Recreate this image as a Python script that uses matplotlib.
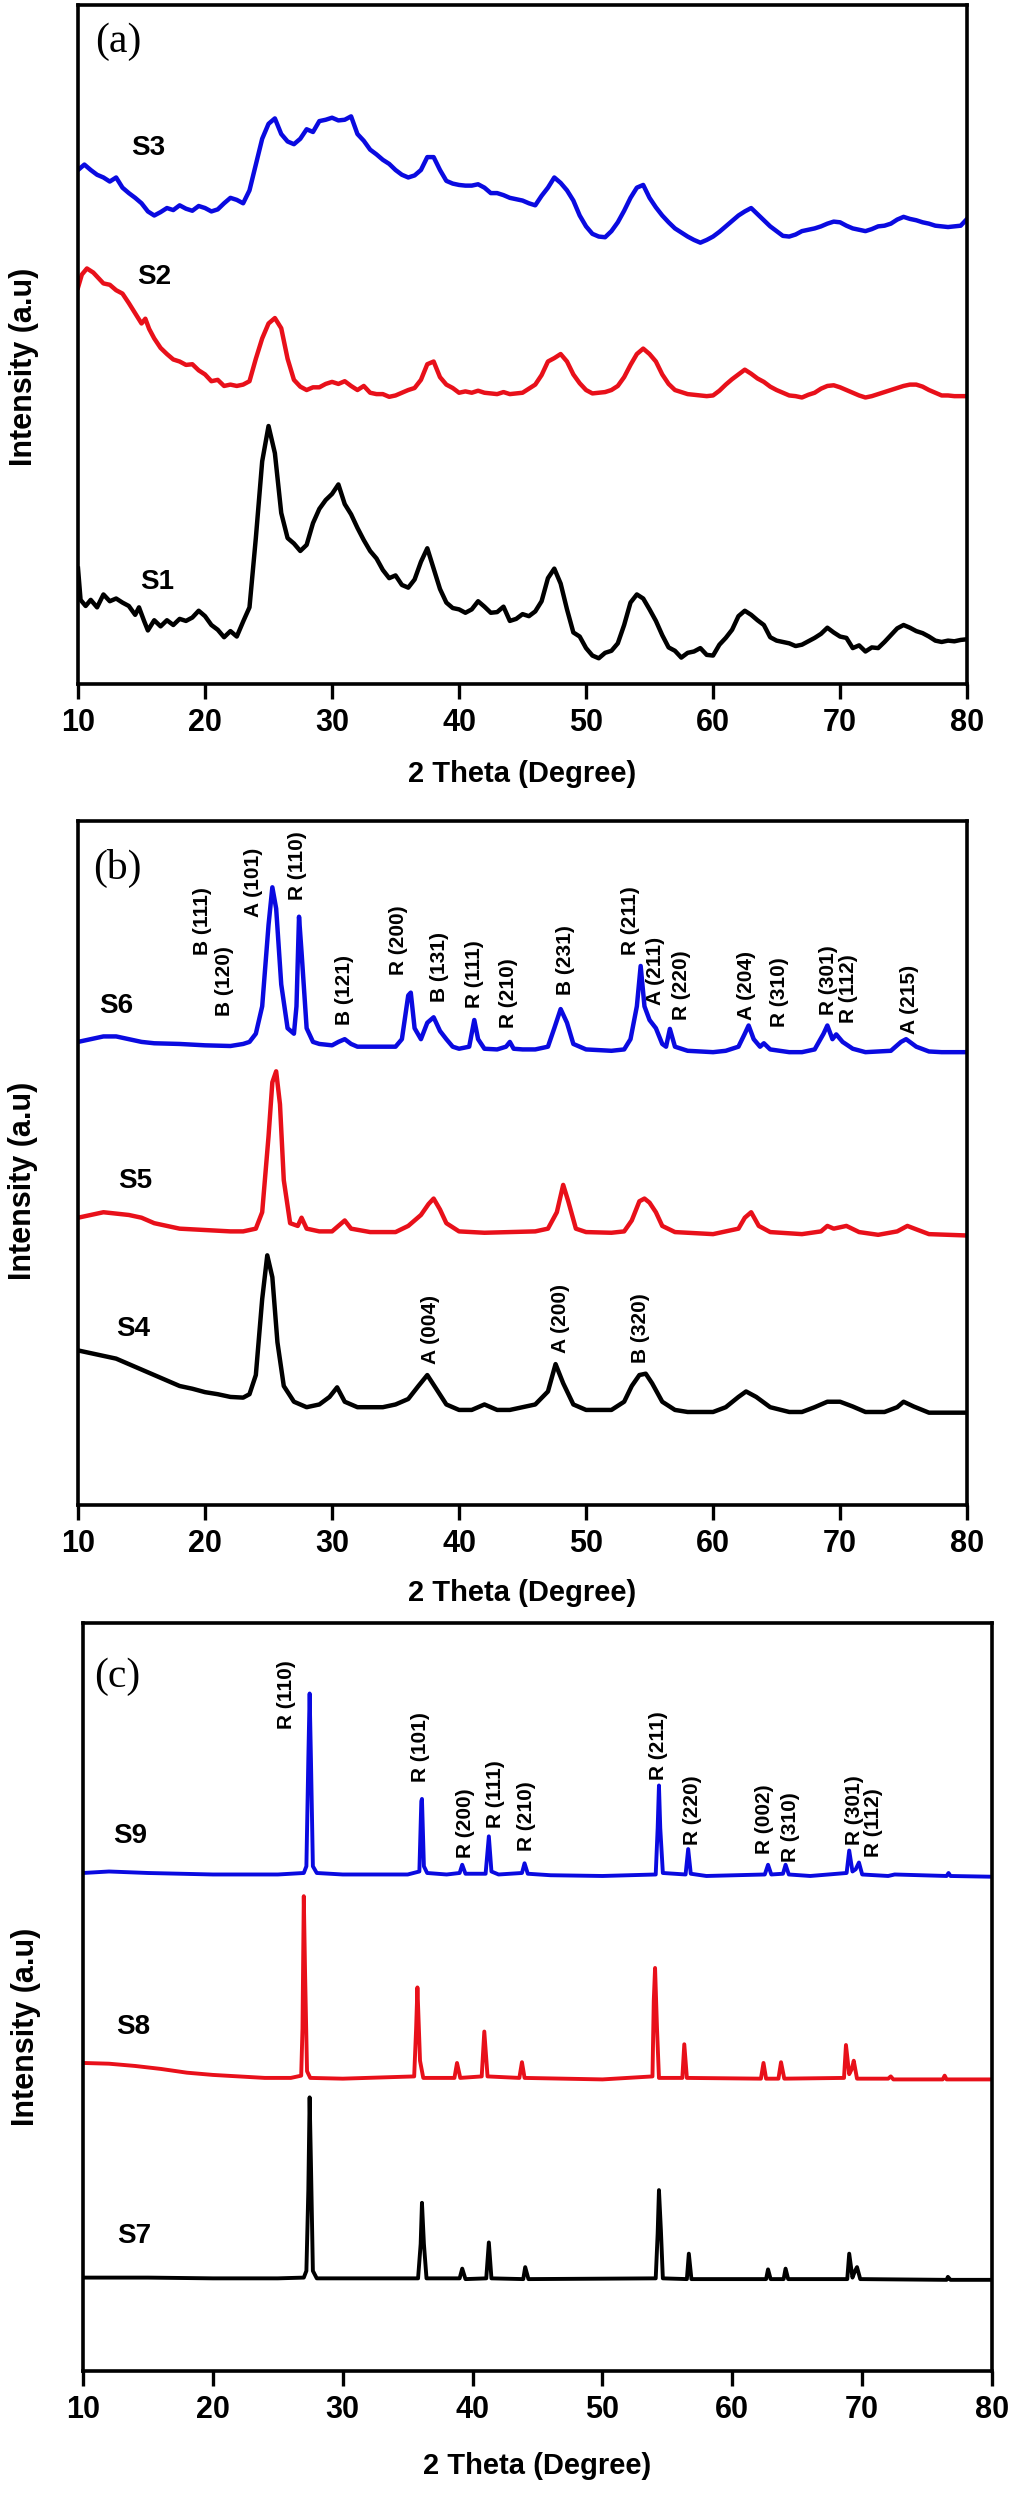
import matplotlib
matplotlib.use('Agg')
import matplotlib.pyplot as plt

####### data (2 theta in degree, intensity in a.u.) #######

# panel (a)
s1_x = [10.0, 10.2, 10.6, 11.0, 11.5, 12.0, 12.5, 13.0, 13.5, 14.0, 14.5, 14.8, 15.2, 15.5, 16.0, 16.5,
        17.0, 17.5, 18.0, 18.5, 19.0, 19.5, 20.0, 20.5, 21.0, 21.5, 22.0, 22.5, 23.0, 23.5, 24.0, 24.5,
        25.0, 25.5, 26.0, 26.5, 27.0, 27.5, 28.0, 28.5, 29.0, 29.5, 30.0, 30.5, 31.0, 31.5, 32.0, 32.5,
        33.0, 33.5, 34.0, 34.5, 35.0, 35.5, 36.0, 36.5, 37.0, 37.5, 38.0, 38.5, 39.0, 39.5, 40.0, 40.5,
        41.0, 41.5, 42.0, 42.5, 43.0, 43.5, 44.0, 44.5, 45.0, 45.5, 46.0, 46.5, 47.0, 47.5, 48.0, 48.5,
        49.0, 49.5, 50.0, 50.5, 51.0, 51.5, 52.0, 52.5, 53.0, 53.5, 54.0, 54.5, 55.0, 55.5, 56.0, 56.5,
        57.0, 57.5, 58.0, 58.5, 59.0, 59.5, 60.0, 60.5, 61.0, 61.5, 62.0, 62.5, 63.0, 63.5, 64.0, 64.5,
        65.0, 65.5, 66.0, 66.5, 67.0, 67.5, 68.0, 68.5, 69.0, 69.5, 70.0, 70.5, 71.0, 71.5, 72.0, 72.5,
        73.0, 73.5, 74.0, 74.5, 75.0, 75.5, 76.0, 76.5, 77.0, 77.5, 78.0, 78.5, 79.0, 79.5, 80.0]
s1_y = [17.0, 12.4, 11.5, 12.4, 11.3, 13.2, 12.2, 12.6, 12.0, 11.5, 10.2, 11.3, 9.3, 7.9, 9.4, 8.5,
        9.4, 8.7, 9.6, 9.3, 9.8, 10.8, 10.0, 8.7, 8.0, 6.9, 7.8, 7.0, 9.2, 11.3, 21.5, 32.8,
        38.0, 34.0, 25.2, 21.5, 20.7, 19.6, 20.5, 23.7, 25.8, 27.1, 28.0, 29.4, 26.5, 25.0, 23.0, 21.2,
        19.6, 18.5, 16.8, 15.6, 16.0, 14.6, 14.2, 15.4, 18.0, 20.0, 17.0, 14.0, 12.0, 11.2, 11.0, 10.5,
        11.0, 12.2, 11.4, 10.5, 10.6, 11.4, 9.3, 9.6, 10.3, 10.0, 10.7, 12.2, 15.6, 17.0, 14.8, 11.0,
        7.6, 7.0, 5.3, 4.2, 3.8, 4.6, 4.9, 6.0, 8.7, 12.0, 13.2, 12.6, 11.0, 9.3, 7.2, 5.4,
        4.9, 3.9, 4.6, 4.8, 5.3, 4.3, 4.2, 5.8, 6.8, 8.0, 10.0, 10.8, 10.2, 9.4, 8.7, 6.9,
        6.4, 6.2, 6.0, 5.6, 5.8, 6.3, 6.8, 7.4, 8.3, 7.6, 7.0, 6.8, 5.3, 5.7, 4.8, 5.4,
        5.3, 6.2, 7.2, 8.2, 8.7, 8.3, 7.8, 7.5, 7.0, 6.4, 6.2, 6.4, 6.3, 6.5, 6.6]

s2_x = [10.0, 10.3, 10.7, 11.2, 11.6, 12.0, 12.5, 13.0, 13.5, 14.0, 14.5, 15.0, 15.3, 15.6, 16.0, 16.5,
        17.0, 17.5, 18.0, 18.5, 19.0, 19.5, 20.0, 20.5, 21.0, 21.5, 22.0, 22.5, 23.0, 23.5, 24.0, 24.5,
        25.0, 25.5, 26.0, 26.5, 27.0, 27.5, 28.0, 28.5, 29.0, 29.5, 30.0, 30.5, 31.0, 31.5, 32.0, 32.5,
        33.0, 33.5, 34.0, 34.5, 35.0, 35.5, 36.0, 36.5, 37.0, 37.5, 38.0, 38.5, 39.0, 39.5, 40.0, 40.5,
        41.0, 41.5, 42.0, 42.5, 43.0, 43.5, 44.0, 44.5, 45.0, 45.5, 46.0, 46.5, 47.0, 47.5, 48.0, 48.5,
        49.0, 49.5, 50.0, 50.5, 51.0, 51.5, 52.0, 52.5, 53.0, 53.5, 54.0, 54.5, 55.0, 55.5, 56.0, 56.5,
        57.0, 57.5, 58.0, 58.5, 59.0, 59.5, 60.0, 60.5, 61.0, 61.5, 62.0, 62.5, 63.0, 63.5, 64.0, 64.5,
        65.0, 65.5, 66.0, 66.5, 67.0, 67.5, 68.0, 68.5, 69.0, 69.5, 70.0, 70.5, 71.0, 71.5, 72.0, 72.5,
        73.0, 73.5, 74.0, 74.5, 75.0, 75.5, 76.0, 76.5, 77.0, 77.5, 78.0, 78.5, 79.0, 79.5, 80.0]
s2_y = [58.4, 60.3, 61.2, 60.6, 59.8, 59.0, 58.8, 58.0, 57.5, 56.1, 54.6, 53.1, 53.8, 52.3, 50.9, 49.5,
        48.6, 47.8, 47.5, 47.0, 47.1, 46.2, 45.6, 44.6, 44.8, 43.9, 44.1, 43.9, 44.1, 44.6, 47.9, 50.9,
        53.1, 53.9, 52.4, 47.9, 44.8, 43.8, 43.3, 43.7, 43.7, 44.2, 44.5, 44.2, 44.6, 43.9, 43.3, 43.9,
        42.9, 42.7, 42.7, 42.3, 42.5, 42.9, 43.3, 43.6, 44.8, 47.1, 47.5, 45.2, 44.1, 43.6, 42.9, 43.1,
        42.9, 43.2, 42.9, 42.8, 42.7, 43.0, 42.7, 42.8, 42.9, 43.5, 44.1, 45.5, 47.5, 48.0, 48.6, 47.5,
        45.6, 44.3, 43.3, 42.8, 42.9, 43.0, 43.3, 43.9, 45.2, 47.0, 48.6, 49.4, 48.6, 47.5, 45.6, 44.2,
        43.3, 43.0, 42.7, 42.6, 42.5, 42.4, 42.5, 43.2, 44.1, 44.9, 45.6, 46.3, 45.7, 45.0, 44.5, 43.8,
        43.3, 42.9, 42.5, 42.4, 42.2, 42.6, 42.9, 43.5, 43.9, 44.0, 43.7, 43.3, 42.9, 42.5, 42.2, 42.4,
        42.7, 43.0, 43.3, 43.6, 43.9, 44.1, 44.1, 43.8, 43.3, 42.9, 42.5, 42.5, 42.4, 42.4, 42.4]

s3_x = [10.0, 10.5, 11.0, 11.5, 12.0, 12.5, 13.0, 13.5, 14.0, 14.5, 15.0, 15.5, 16.0, 16.5, 17.0, 17.5,
        18.0, 18.5, 19.0, 19.5, 20.0, 20.5, 21.0, 21.5, 22.0, 22.5, 23.0, 23.5, 24.0, 24.5, 25.0, 25.5,
        26.0, 26.5, 27.0, 27.5, 28.0, 28.5, 29.0, 29.5, 30.0, 30.5, 31.0, 31.5, 32.0, 32.5, 33.0, 33.5,
        34.0, 34.5, 35.0, 35.5, 36.0, 36.5, 37.0, 37.5, 38.0, 38.5, 39.0, 39.5, 40.0, 40.5, 41.0, 41.5,
        42.0, 42.5, 43.0, 43.5, 44.0, 44.5, 45.0, 45.5, 46.0, 46.5, 47.0, 47.5, 48.0, 48.5, 49.0, 49.5,
        50.0, 50.5, 51.0, 51.5, 52.0, 52.5, 53.0, 53.5, 54.0, 54.5, 55.0, 55.5, 56.0, 56.5, 57.0, 57.5,
        58.0, 58.5, 59.0, 59.5, 60.0, 60.5, 61.0, 61.5, 62.0, 62.5, 63.0, 63.5, 64.0, 64.5, 65.0, 65.5,
        66.0, 66.5, 67.0, 67.5, 68.0, 68.5, 69.0, 69.5, 70.0, 70.5, 71.0, 71.5, 72.0, 72.5, 73.0, 73.5,
        74.0, 74.5, 75.0, 75.5, 76.0, 76.5, 77.0, 77.5, 78.0, 78.5, 79.0, 79.5, 80.0]
s3_y = [75.7, 76.5, 75.7, 75.0, 74.6, 74.0, 74.6, 73.1, 72.3, 71.6, 70.8, 69.6, 69.0, 69.5, 70.1, 69.8,
        70.5, 70.0, 69.7, 70.4, 70.1, 69.6, 69.9, 70.8, 71.6, 71.3, 70.8, 72.7, 76.5, 80.3, 82.5, 83.3,
        81.0, 79.9, 79.5, 80.3, 81.7, 81.3, 82.9, 83.1, 83.4, 83.0, 83.1, 83.6, 81.0, 80.0, 78.7, 78.0,
        77.2, 76.6, 75.7, 75.0, 74.6, 74.9, 75.7, 77.6, 77.6, 75.7, 74.1, 73.7, 73.5, 73.4, 73.4, 73.6,
        73.1, 72.3, 72.3, 72.0, 71.6, 71.4, 71.2, 70.8, 70.5, 71.9, 73.1, 74.6, 73.8, 72.7, 71.2, 69.0,
        67.4, 66.3, 65.9, 65.8, 66.7, 68.0, 69.7, 71.6, 73.1, 73.5, 71.6, 70.2, 69.0, 68.0, 67.1, 66.5,
        65.9, 65.4, 65.0, 65.4, 65.9, 66.6, 67.4, 68.2, 69.0, 69.6, 70.1, 69.2, 68.3, 67.4, 66.7, 66.0,
        65.9, 66.2, 66.7, 66.9, 67.1, 67.4, 67.8, 68.1, 68.0, 67.5, 67.1, 66.9, 66.7, 67.0, 67.4, 67.5,
        67.8, 68.4, 68.8, 68.5, 68.3, 68.0, 67.8, 67.5, 67.4, 67.3, 67.4, 67.5, 68.5]

# panel (b)
s4_x = [10, 11, 12, 13, 14, 15, 16, 17, 18, 19, 20, 21, 22, 23, 23.5, 24, 24.5, 24.9, 25.3, 25.7,
        26.2, 27, 28, 29, 29.8, 30.4, 31, 32, 34, 35, 36, 36.8, 37.5, 38.2, 39, 40, 41, 42, 43, 44,
        45, 46, 47, 47.6, 48.2, 49, 50, 52, 53, 53.6, 54.2, 54.7, 55.2, 56, 57, 58, 60, 61, 62, 62.6,
        63.4, 64.5, 66, 67, 68, 69, 70, 71, 72, 73.5, 74.5, 75, 75.8, 77, 80]
s4_y = [22.6, 22.2, 21.8, 21.4, 20.6, 19.8, 19.0, 18.2, 17.4, 17.0, 16.5, 16.2, 15.8, 15.7, 16.2, 19.0,
        30.1, 36.5, 33.3, 23.8, 17.4, 15.1, 14.3, 14.7, 15.8, 17.2, 15.1, 14.3, 14.3, 14.7, 15.5, 17.4,
        19.0, 17.0, 14.7, 13.9, 13.9, 14.7, 13.9, 13.9, 14.3, 14.7, 16.6, 20.6, 17.8, 14.7, 13.9, 13.9,
        15.1, 17.4, 19.0, 19.2, 17.8, 15.1, 13.9, 13.6, 13.6, 14.3, 15.8, 16.6, 15.8, 14.3, 13.6, 13.6,
        14.3, 15.1, 15.1, 14.4, 13.6, 13.6, 14.3, 15.1, 14.4, 13.5, 13.5]

s5_x = [10, 11, 12, 13, 14, 15, 16, 18, 20, 22, 23, 24, 24.5, 25, 25.3, 25.6, 25.9, 26.2, 26.7, 27.3,
        27.6, 28, 29, 30, 30.5, 31, 31.5, 33, 35, 36, 37, 37.6, 38, 38.5, 39, 40, 42, 44, 46, 47,
        47.7, 48.2, 48.6, 49.2, 50, 52, 53, 53.6, 54.2, 54.6, 55, 55.5, 56, 57, 60, 62, 62.5, 63, 63.6,
        64.5, 67, 68.5, 69, 69.5, 70.5, 71.5, 73, 74.5, 75.3, 76, 77, 80]
s5_y = [42.0, 42.4, 42.8, 42.6, 42.4, 42.0, 41.2, 40.4, 40.2, 40.0, 40.0, 40.4, 42.8, 53.9, 61.8, 63.4,
        58.6, 47.5, 41.2, 40.8, 42.0, 40.4, 40.0, 40.0, 40.8, 41.6, 40.4, 39.9, 39.9, 40.8, 42.4, 44.0,
        44.8, 43.2, 41.2, 40.0, 39.8, 39.9, 40.0, 40.4, 42.8, 46.8, 44.4, 40.4, 39.9, 39.8, 40.0, 41.6,
        44.4, 44.8, 44.2, 42.8, 40.8, 39.9, 39.6, 40.4, 42.0, 42.8, 40.8, 39.9, 39.6, 40.0, 40.8, 40.4,
        40.8, 39.9, 39.5, 40.0, 40.8, 40.3, 39.6, 39.4]

s6_x = [10, 11, 12, 13, 14, 15, 16, 18, 20, 22, 23, 23.5, 24, 24.5, 25, 25.3, 25.6, 26, 26.5, 27,
        27.2, 27.4, 27.6, 28, 28.5, 29, 30, 30.5, 31, 31.5, 32, 34, 35, 35.5, 36, 36.2, 36.5, 37, 37.5,
        38, 38.5, 39, 39.5, 40, 40.8, 41.2, 41.5, 42, 43, 43.7, 44, 44.3, 45, 46, 47, 47.5, 48, 48.5,
        49, 50, 52, 53, 53.5, 54, 54.3, 54.6, 55, 55.5, 56, 56.3, 56.6, 57, 58, 60, 61, 62, 62.5, 62.8,
        63.2, 63.7, 64, 64.5, 66, 67, 68, 68.7, 69, 69.4, 69.7, 70.2, 71, 72, 74, 74.8, 75.2, 76, 77,
        78, 80]
s6_y = [67.7, 68.1, 68.5, 68.5, 68.1, 67.7, 67.5, 67.4, 67.2, 67.1, 67.4, 67.7, 68.9, 72.9, 84.8, 90.3,
        87.2, 76.1, 69.7, 68.9, 72.9, 86.0, 80.8, 69.7, 67.7, 67.4, 67.2, 67.7, 68.1, 67.4, 67.0, 67.0,
        67.0, 68.1, 74.5, 74.9, 69.7, 68.1, 70.5, 71.3, 69.3, 68.1, 67.0, 66.7, 67.0, 70.9, 68.1, 66.7,
        66.6, 67.0, 67.7, 66.7, 66.6, 66.6, 67.0, 69.7, 72.5, 70.5, 67.4, 66.6, 66.4, 66.6, 68.1, 72.9,
        78.8, 72.9, 70.9, 69.7, 67.4, 67.0, 69.6, 67.0, 66.4, 66.2, 66.4, 67.0, 68.9, 70.1, 68.1, 67.0,
        67.5, 66.6, 66.2, 66.2, 66.6, 68.9, 70.1, 68.1, 68.8, 67.7, 66.7, 66.2, 66.4, 67.7, 68.1, 67.0,
        66.3, 66.2, 66.2]

# panel (c)
s7_x = [10, 15, 20, 25, 27, 27.2, 27.35, 27.45, 27.55, 27.7, 28, 35.8, 36.0, 36.1, 36.25, 36.45,
        39.0, 39.2, 39.45, 41.05, 41.25, 41.45, 43.9, 44.05, 44.3, 54.1, 54.25, 54.35, 54.5, 54.65,
        56.5, 56.65, 56.85, 62.6, 62.75, 62.95, 63.95, 64.1, 64.3, 68.85, 69.0, 69.25, 69.45, 69.6,
        69.85, 76.5, 76.6, 76.8, 80]
s7_y = [12.5, 12.5, 12.4, 12.4, 12.5, 13.4, 24.2, 36.6, 27.8, 13.4, 12.4, 12.4, 17.0, 22.5, 17.0, 12.4,
        12.4, 13.7, 12.3, 12.4, 17.2, 12.4, 12.3, 13.9, 12.3, 12.4, 18.4, 24.2, 18.8, 12.4,
        12.3, 15.7, 12.3, 12.3, 13.6, 12.3, 12.3, 13.7, 12.3, 12.3, 15.7, 12.5, 13.4, 13.9,
        12.3, 12.2, 12.6, 12.2, 12.2]

s8_x = [10, 12, 14, 16, 18, 20, 22, 24, 26, 26.8, 26.9, 27.0, 27.1, 27.25, 27.5, 30, 35.5, 35.65,
        35.75, 35.95, 36.2, 38.6, 38.8, 39.05, 40.7, 40.9, 41.15, 43.6, 43.8, 44.0, 50, 53.85, 53.95,
        54.05, 54.2, 54.35, 56.15, 56.3, 56.5, 62.2, 62.4, 62.6, 63.55, 63.75, 64.0, 68.6, 68.75, 69.0,
        69.2, 69.35, 69.6, 72, 72.2, 72.4, 76.2, 76.35, 76.5, 80]
s8_y = [41.2, 41.1, 40.8, 40.4, 39.9, 39.6, 39.4, 39.2, 39.2, 39.5, 45.8, 63.5, 53.1, 40.1, 39.2, 39.1,
        39.4, 45.8, 51.3, 41.5, 39.2, 39.2, 41.2, 39.2, 39.4, 45.4, 39.4, 39.2, 41.3, 39.2, 39.0, 39.4,
        49.5, 53.9, 45.8, 39.2, 39.2, 43.7, 39.2, 39.1, 41.2, 39.1, 39.1, 41.3, 39.1, 39.2, 43.6, 39.7,
        40.4, 41.5, 39.1, 39.1, 39.4, 39.0, 39.0, 39.5, 39.0, 39.0]

s9_x = [10, 12, 15, 20, 25, 27, 27.2, 27.35, 27.45, 27.55, 27.7, 28, 30, 35, 35.9, 36.05, 36.1, 36.25,
        36.5, 38, 39.0, 39.2, 39.45, 41.0, 41.25, 41.45, 42, 43.8, 44.0, 44.25, 46, 50, 54.1, 54.25,
        54.35, 54.45, 54.65, 56.4, 56.6, 56.8, 58, 62.5, 62.75, 63.0, 63.9, 64.1, 64.35, 66, 68.8, 69.0,
        69.25, 69.5, 69.75, 70.0, 72, 72.5, 76.5, 76.65, 76.8, 80]
s9_y = [66.6, 66.8, 66.6, 66.4, 66.4, 66.6, 67.5, 81.9, 90.6, 81.9, 67.5, 66.6, 66.4, 66.4, 66.8, 76.2,
        76.5, 67.5, 66.6, 66.4, 66.6, 67.7, 66.5, 66.5, 71.5, 66.8, 66.4, 66.6, 67.9, 66.5, 66.3, 66.2,
        66.4, 72.6, 78.3, 72.6, 66.6, 66.4, 69.8, 66.5, 66.2, 66.4, 67.7, 66.4, 66.5, 67.7, 66.4, 66.2,
        66.6, 69.6, 66.8, 67.1, 68.0, 66.4, 66.2, 66.4, 66.2, 66.6, 66.2, 66.1]

# peak labels: text, 2 theta, intensity where the label starts
peaks_b = ['B (111)', 'B (120)', 'A (101)', 'R (110)', 'B (121)', 'R (200)', 'B (131)', 'R (111)',
           'R (210)', 'B (231)', 'R (211)', 'A (211)', 'R (220)', 'A (204)', 'R (310)', 'R (301)',
           'R (112)', 'A (215)', 'A (004)', 'A (200)', 'B (320)']
peaks_b_x = [19.8, 21.5, 23.8, 27.3, 31.0, 35.2, 38.5, 41.2, 43.9, 48.4, 53.5, 55.5, 57.5, 62.6,
             65.2, 69.1, 70.7, 75.5, 37.75, 48.0, 54.3]
peaks_b_y = [80.4, 71.5, 86.0, 88.4, 70.1, 77.5, 73.5, 72.7, 69.7, 74.6, 80.4, 73.1, 70.9, 70.9,
             69.9, 71.7, 70.5, 68.8, 20.6, 22.2, 20.8]

peaks_c = ['R (110)', 'R (101)', 'R (200)', 'R (111)', 'R (210)', 'R (211)', 'R (220)', 'R (002)',
           'R (310)', 'R (301)', 'R (112)']
peaks_c_x = [25.67, 35.97, 39.48, 41.74, 44.15, 54.3, 56.96, 62.44, 64.5, 69.37, 70.87]
peaks_c_y = [85.9, 78.7, 68.6, 72.6, 69.5, 79.1, 70.4, 69.1, 68.1, 70.3, 68.8]

BLUE = '#0a0ae0'
RED = '#e8101a'
BLACK = '#000000'

plt.rcParams['font.family'] = ['Liberation Sans', 'DejaVu Sans']

fig = plt.figure(figsize=(10.2, 24.93), dpi=100)
ax_a = fig.add_axes([0.0765, 0.7256, 0.8716, 0.2724])
ax_b = fig.add_axes([0.0765, 0.3963, 0.8716, 0.2744])
ax_c = fig.add_axes([0.0814, 0.0489, 0.8912, 0.3000])


def style_axes(ax, tag, ylab_y, xlab_y, ylab_x):
    ax.set_xlim(10, 80)
    ax.set_ylim(0, 100)
    ax.set_xticks(range(10, 81, 10))
    ax.set_yticks([])
    ax.tick_params(axis='x', direction='out', length=11, width=2.4, pad=6, labelsize=22)
    for lab in ax.get_xticklabels():
        lab.set_fontweight('bold')
    for sp in ax.spines.values():
        sp.set_linewidth(2.6)
    ax.set_xlabel('2 Theta (Degree)', fontsize=21, fontweight='bold')
    ax.xaxis.set_label_coords(0.5, xlab_y)
    ax.xaxis.label.set_va('center')
    ax.set_ylabel('Intensity (a.u)', fontsize=22, fontweight='bold')
    ax.yaxis.set_label_coords(ylab_x, ylab_y)
    ax.yaxis.label.set_va('center')
    ax.text(tag[1], tag[2], tag[0], fontsize=30, family='Liberation Serif', ha='center', va='center')


def sample_label(ax, x, y, s):
    ax.text(x, y, s, fontsize=20, fontweight='bold', ha='center', va='center')


# (a)
ax_a.plot(s1_x, s1_y, color=BLACK, lw=3.2)
ax_a.plot(s2_x, s2_y, color=RED, lw=3.2)
ax_a.plot(s3_x, s3_y, color=BLUE, lw=3.2)
sample_label(ax_a, 15.5, 79.0, 'S3')
sample_label(ax_a, 16.0, 59.9, 'S2')
sample_label(ax_a, 16.2, 15.1, 'S1')
style_axes(ax_a, ('(a)', 13.2, 94.6), 0.467, -0.1325, -0.061)

# (b)
ax_b.plot(s4_x, s4_y, color=BLACK, lw=3.2)
ax_b.plot(s5_x, s5_y, color=RED, lw=3.2)
ax_b.plot(s6_x, s6_y, color=BLUE, lw=3.2)
sample_label(ax_b, 13.0, 72.9, 'S6')
sample_label(ax_b, 14.5, 47.3, 'S5')
sample_label(ax_b, 14.35, 25.75, 'S4')
for s, px, py in zip(peaks_b, peaks_b_x, peaks_b_y):
    ax_b.text(px, py, s, rotation=90, fontsize=15, fontweight='bold', ha='center', va='bottom')
style_axes(ax_b, ('(b)', 13.1, 93.1), 0.474, -0.1287, -0.062)

# (c)
ax_c.plot(s7_x, s7_y, color=BLACK, lw=2.8)
ax_c.plot(s8_x, s8_y, color=RED, lw=2.8)
ax_c.plot(s9_x, s9_y, color=BLUE, lw=2.8)
sample_label(ax_c, 13.6, 71.5, 'S9')
sample_label(ax_c, 13.87, 46.0, 'S8')
sample_label(ax_c, 13.97, 18.05, 'S7')
for s, px, py in zip(peaks_c, peaks_c_x, peaks_c_y):
    ax_c.text(px, py, s, rotation=90, fontsize=15, fontweight='bold', ha='center', va='bottom')
style_axes(ax_c, ('(c)', 12.6, 92.8), 0.46, -0.127, -0.063)

fig.savefig('out.png', dpi=100)
